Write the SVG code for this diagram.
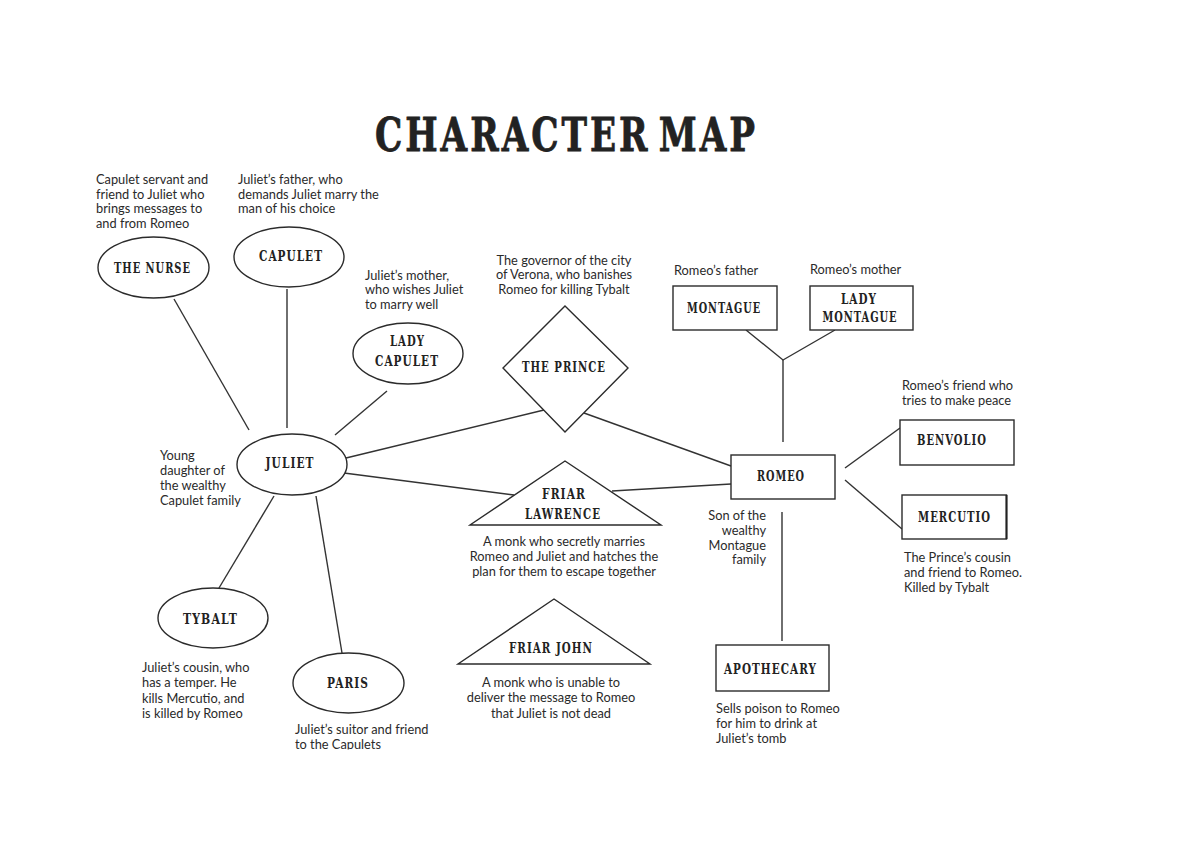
<svg xmlns="http://www.w3.org/2000/svg" width="1200" height="849" viewBox="0 0 1200 849">
<style>
.s{fill:#fff;stroke:#2b2b2b;stroke-width:1.4}
.c line,.c polyline{fill:none;stroke:#333;stroke-width:1.4}
.l{font-family:"DejaVu Serif",serif;font-weight:700;font-size:15px;letter-spacing:1.5px;fill:#222;text-anchor:middle}
.d{font-family:"Lato","Noto Sans",sans-serif;font-size:12.8px;fill:#2a2a2a}
.m{text-anchor:middle}
.e{text-anchor:end}
.t{font-family:"DejaVu Serif",serif;font-weight:700;font-size:46px;letter-spacing:4px;word-spacing:-9px;fill:#222;stroke:#222;stroke-width:.8}
</style>
<defs><clipPath id="cut" clipPathUnits="userSpaceOnUse"><rect x="280" y="720" width="170" height="29.500"/></clipPath></defs>
<rect width="1200" height="849" fill="#fff"/>
<text class="t" x="375" y="151" textLength="383" lengthAdjust="spacingAndGlyphs">CHARACTER MAP</text>
<g id="connectors" class="c">
<line x1="174" y1="299" x2="249" y2="430"/>
<line x1="287" y1="289" x2="287" y2="428"/>
<line x1="387" y1="391" x2="335" y2="435"/>
<line x1="346" y1="458" x2="544" y2="410"/>
<line x1="584" y1="413" x2="731" y2="466"/>
<line x1="344" y1="473" x2="514" y2="495"/>
<line x1="612" y1="491" x2="731" y2="484"/>
<polyline points="746,330 783,360 835,330"/>
<line x1="783" y1="360" x2="783" y2="442"/>
<line x1="845" y1="468" x2="900" y2="428"/>
<line x1="845" y1="480" x2="902" y2="529"/>
<line x1="782" y1="512" x2="782" y2="641"/>
<line x1="274" y1="496" x2="219" y2="588"/>
<line x1="316" y1="496" x2="342" y2="653"/>
</g>
<g id="nurse"><ellipse class="s" cx="153.5" cy="267.5" rx="55.5" ry="30.5"/><text class="l" x="152.500" y="272.500" textLength="77" lengthAdjust="spacingAndGlyphs">THE NURSE</text>
<text class="d" x="96" y="184">Capulet servant and</text><text class="d" x="96" y="198.500">friend to Juliet who</text><text class="d" x="96" y="213">brings messages to</text><text class="d" x="96" y="228">and from Romeo</text></g>
<g id="capulet"><ellipse class="s" cx="289" cy="257" rx="55" ry="30"/><text class="l" x="291" y="260.500" textLength="64" lengthAdjust="spacingAndGlyphs">CAPULET</text>
<text class="d" x="238" y="184">Juliet’s father, who</text><text class="d" x="238" y="198.500">demands Juliet marry the</text><text class="d" x="238" y="213">man of his choice</text></g>
<g id="lady-capulet"><ellipse class="s" cx="408" cy="353.500" rx="55" ry="30.500"/><text class="l" x="407.500" y="345.500" textLength="35" lengthAdjust="spacingAndGlyphs">LADY</text><text class="l" x="407" y="365.500" textLength="64" lengthAdjust="spacingAndGlyphs">CAPULET</text>
<text class="d" x="365" y="280">Juliet’s mother,</text><text class="d" x="365" y="294">who wishes Juliet</text><text class="d" x="365" y="309">to marry well</text></g>
<g id="juliet"><ellipse class="s" cx="292" cy="464.500" rx="55" ry="30.500"/><text class="l" x="290" y="467.500" textLength="49" lengthAdjust="spacingAndGlyphs">JULIET</text>
<text class="d" x="160" y="460">Young</text><text class="d" x="160" y="475">daughter of</text><text class="d" x="160" y="490">the wealthy</text><text class="d" x="160" y="505">Capulet family</text></g>
<g id="tybalt"><ellipse class="s" cx="213" cy="618" rx="55" ry="30"/><text class="l" x="210.500" y="624" textLength="55" lengthAdjust="spacingAndGlyphs">TYBALT</text>
<text class="d" x="142" y="672">Juliet’s cousin, who</text><text class="d" x="142" y="687">has a temper. He</text><text class="d" x="142" y="703">kills Mercutio, and</text><text class="d" x="142" y="718">is killed by Romeo</text></g>
<g id="paris"><ellipse class="s" cx="348.500" cy="683" rx="55.500" ry="30"/><text class="l" x="348" y="687.500" textLength="42" lengthAdjust="spacingAndGlyphs">PARIS</text>
<text class="d" x="295" y="734">Juliet’s suitor and friend</text><text class="d" x="295" y="749" clip-path="url(#cut)">to the Capulets</text></g>
<g id="prince"><polygon class="s" points="565,306 628,368 565,432 503,368"/><text class="l" x="564" y="372" textLength="84" lengthAdjust="spacingAndGlyphs">THE PRINCE</text>
<text class="d m" x="564" y="265">The governor of the city</text><text class="d m" x="564" y="279">of Verona, who banishes</text><text class="d m" x="564" y="294">Romeo for killing Tybalt</text></g>
<g id="friar-lawrence"><polygon class="s" points="565,461 661,525 470,525"/><text class="l" x="564" y="498.500" textLength="44" lengthAdjust="spacingAndGlyphs">FRIAR</text><text class="l" x="563" y="518.500" textLength="76" lengthAdjust="spacingAndGlyphs">LAWRENCE</text>
<text class="d m" x="564" y="546">A monk who secretly marries</text><text class="d m" x="564" y="561">Romeo and Juliet and hatches the</text><text class="d m" x="564" y="576">plan for them to escape together</text></g>
<g id="friar-john"><polygon class="s" points="554,599 650,664 458,664"/><text class="l" x="551" y="653" textLength="84" lengthAdjust="spacingAndGlyphs">FRIAR JOHN</text>
<text class="d m" x="551" y="687">A monk who is unable to</text><text class="d m" x="551" y="702">deliver the message to Romeo</text><text class="d m" x="551" y="718">that Juliet is not dead</text></g>
<g id="montague"><rect class="s" x="673" y="286" width="104" height="44"/><text class="l" x="724" y="312.500" textLength="74" lengthAdjust="spacingAndGlyphs">MONTAGUE</text>
<text class="d" x="674" y="275">Romeo’s father</text></g>
<g id="lady-montague"><rect class="s" x="810" y="286" width="103" height="44"/><text class="l" x="859" y="303.500" textLength="36" lengthAdjust="spacingAndGlyphs">LADY</text><text class="l" x="860" y="322" textLength="75" lengthAdjust="spacingAndGlyphs">MONTAGUE</text>
<text class="d" x="810" y="274">Romeo’s mother</text></g>
<g id="romeo"><rect class="s" x="731" y="455" width="104" height="44"/><text class="l" x="781" y="480.500" textLength="48" lengthAdjust="spacingAndGlyphs">ROMEO</text>
<text class="d e" x="766" y="520">Son of the</text><text class="d e" x="766" y="535">wealthy</text><text class="d e" x="766" y="550">Montague</text><text class="d e" x="766" y="564">family</text></g>
<g id="benvolio"><rect class="s" x="900" y="420" width="114" height="45"/><text class="l" x="952" y="444.500" textLength="70" lengthAdjust="spacingAndGlyphs">BENVOLIO</text>
<text class="d" x="902" y="390">Romeo’s friend who</text><text class="d" x="902" y="405">tries to make peace</text></g>
<g id="mercutio"><rect class="s" x="902" y="495" width="104.500" height="44"/><line x1="1006.500" y1="495" x2="1006.500" y2="539" stroke="#222" stroke-width="2"/><text class="l" x="954.500" y="521.500" textLength="73" lengthAdjust="spacingAndGlyphs">MERCUTIO</text>
<text class="d" x="904" y="562">The Prince’s cousin</text><text class="d" x="904" y="577">and friend to Romeo.</text><text class="d" x="904" y="592">Killed by Tybalt</text></g>
<g id="apothecary"><rect class="s" x="716" y="645" width="113" height="46"/><text class="l" x="770.500" y="673.500" textLength="93" lengthAdjust="spacingAndGlyphs">APOTHECARY</text>
<text class="d" x="716" y="713">Sells poison to Romeo</text><text class="d" x="716" y="728">for him to drink at</text><text class="d" x="716" y="743">Juliet’s tomb</text></g>
</svg>
